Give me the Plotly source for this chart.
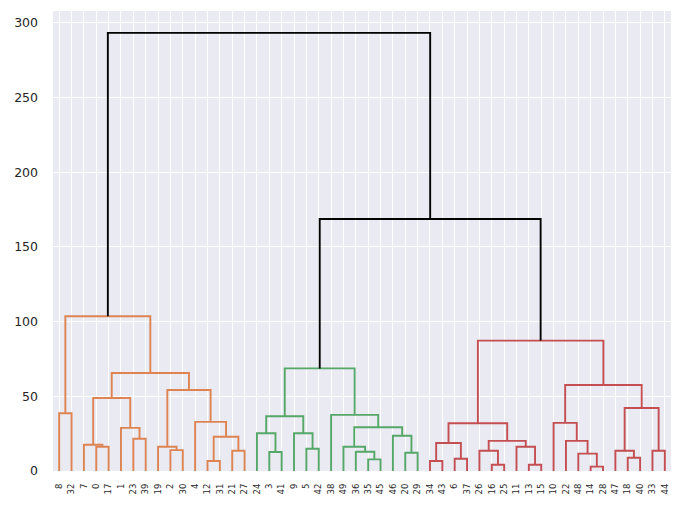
import plotly.graph_objects as go

# Merge table (scipy-like): children are leaf labels (int) or "M<k>" (k-th merge)
merge_a = [0, 7, 23, 1, "M1", 2, 19, 12, 21, "M7", 4, "M6", "M4", 8, "M13",
           3, 24, 5, 9, "M16", 35, 36, 49, 20, 46, "M22", 38, "M19",
           34, 6, "M28", 16, 26, 13, 11, "M32", "M30", 14, 48, 22, 10, 18, 47, 33, "M42", "M40", "M36",
           "M27", "M14"]
merge_b = [17, "M0", 39, "M2", "M3", 30, "M5", 31, 27, "M8", "M9", "M10", "M11", 32, "M12",
           41, "M15", 42, "M17", "M18", 45, "M20", "M21", 29, "M23", "M24", "M25", "M26",
           43, 37, "M29", 25, "M31", 15, "M33", "M34", "M35", 28, "M37", "M38", "M39", 40, "M41", 44, "M43", "M44", "M45",
           "M46", "M47"]
merge_h = [16.2, 17.6, 21.6, 28.9, 48.9, 14.0, 16.2, 6.7, 13.6, 22.9, 32.9, 54.2, 65.6, 38.7, 103.6,
           12.7, 25.3, 14.9, 25.3, 36.7, 7.8, 12.9, 16.2, 12.2, 23.6, 29.3, 37.6, 68.7,
           6.7, 8.2, 18.7, 4.2, 13.6, 4.2, 16.2, 20.2, 32.0, 2.9, 11.6, 20.2, 32.2, 8.9, 13.6, 13.6, 42.2, 57.6, 87.3,
           168.7, 293.3]

palette = ["#dd8452", "#55a868", "#c44e52"]
above_color = "black"
color_threshold = 150

n_merge = len(merge_h)
root = "M%d" % (n_merge - 1)

# leaf order by traversal
leaf_order = []
def walk(node):
    if isinstance(node, str):
        k = int(node[1:])
        walk(merge_a[k]); walk(merge_b[k])
    else:
        leaf_order.append(node)
walk(root)
leaf_x = {lab: 5 + 10 * i for i, lab in enumerate(leaf_order)}

pos = {}
def getpos(node):
    if isinstance(node, str):
        k = int(node[1:])
        if node not in pos:
            xa, _ = getpos(merge_a[k]); xb, _ = getpos(merge_b[k])
            pos[node] = ((xa + xb) / 2, merge_h[k])
        return pos[node]
    return (leaf_x[node], 0.0)
getpos(root)

# colors: clusters below threshold
color_of = {}
cidx = [0]
def assign(node, col):
    if not isinstance(node, str):
        return
    k = int(node[1:])
    if col is None and merge_h[k] < color_threshold:
        col = palette[cidx[0] % len(palette)]
        cidx[0] += 1
    color_of[k] = col if col is not None else above_color
    assign(merge_a[k], col); assign(merge_b[k], col)
assign(root, None)

segs = {}
for k in range(n_merge):
    xa, ha = getpos(merge_a[k]); xb, hb = getpos(merge_b[k])
    h = merge_h[k]
    c = color_of[k]
    xs, ys = segs.setdefault(c, ([], []))
    xs += [xa, xa, xb, xb, None]
    ys += [ha, h, h, hb, None]

fig = go.Figure()
for c, (xs, ys) in segs.items():
    fig.add_trace(go.Scatter(x=xs, y=ys, mode="lines", line=dict(color=c, width=1.9),
                             hoverinfo="skip", showlegend=False))

fig.update_layout(
    width=682, height=509,
    margin=dict(l=53, r=11, t=11, b=38),
    paper_bgcolor="white", plot_bgcolor="#eaeaf2",
    font=dict(family="DejaVu Sans", color="#262626"),
    showlegend=False,
)
fig.update_xaxes(range=[0, 10 * len(leaf_order)],
                 tickvals=[leaf_x[l] for l in leaf_order],
                 ticktext=[str(l) for l in leaf_order],
                 tickangle=-90, tickfont=dict(size=8.5),
                 showgrid=True, gridcolor="white", gridwidth=1,
                 zeroline=False, showline=False, ticks="", ticklabelstandoff=10)
fig.update_yaxes(range=[0, max(merge_h) * 1.05], dtick=50, tick0=0,
                 tickfont=dict(size=12.5),
                 showgrid=True, gridcolor="white", gridwidth=1,
                 zeroline=False, showline=False, ticks="", ticklabelstandoff=14)
fig.write_html("out.html")
